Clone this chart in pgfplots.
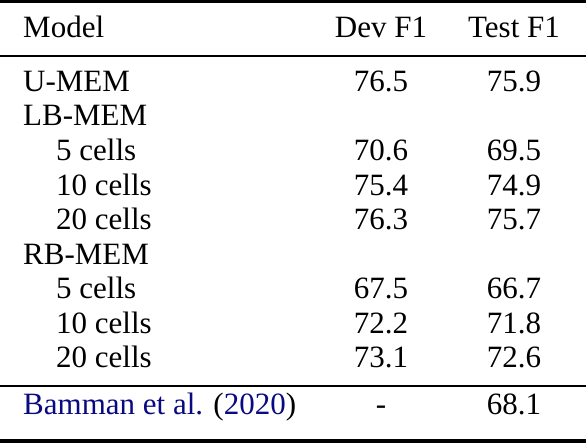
\documentclass[border=0pt]{standalone}
\usepackage{pgfplots}
\pgfplotsset{compat=1.18}
\usepackage{fontspec}
\setmainfont{Liberation Serif}
\definecolor{citeblue}{RGB}{10,10,128}
\newcommand{\bamman}{\textcolor{citeblue}{Bamman et al.} (\textcolor{citeblue}{2020})}

\begin{document}
\begin{tikzpicture}
\begin{axis}[
    name=ax, at={(0,0)}, anchor=south west,
    scale only axis, width=586bp, height=443bp,
    xmin=0, xmax=586, ymin=0, ymax=443, y dir=reverse,
    axis lines=none, clip=false,
    nodes near coords, point meta=explicit symbolic,
    every node near coord/.append style={inner sep=0pt,
        font=\fontsize{31bp}{36bp}\selectfont},
]
% rules
\addplot[black, line width=3.5bp] coordinates {(0,1.7) (586,1.7)};
\addplot[black, line width=1.8bp] coordinates {(0,56) (586,56)};
\addplot[black, line width=1.8bp] coordinates {(0,386) (586,386)};
\addplot[black, line width=4.5bp] coordinates {(0,440.8) (586,440.8)};

% model column
\addplot[draw=none, mark=none, every node near coord/.append style={anchor=base west}]
  table[col sep=comma, row sep=\\, meta=t] {
x,y,t\\
23,38,Model\\
23,91.5,U-MEM\\
23,126,LB-MEM\\
56,160.5,5 cells\\
56,195,10 cells\\
56,229.5,20 cells\\
23,264,RB-MEM\\
56,298.5,5 cells\\
56,333,10 cells\\
56,367.5,20 cells\\
23,414,\bamman\\
};

% Dev F1
\addplot[draw=none, mark=none, every node near coord/.append style={anchor=base}]
  table[col sep=comma, row sep=\\, meta=t] {
x,y,t\\
381,38,Dev F1\\
381,91.5,76.5\\
381,160.5,70.6\\
381,195,75.4\\
381,229.5,76.3\\
381,298.5,67.5\\
381,333,72.2\\
381,367.5,73.1\\
381,414,-\\
};

% Test F1
\addplot[draw=none, mark=none, every node near coord/.append style={anchor=base}]
  table[col sep=comma, row sep=\\, meta=t] {
x,y,t\\
514,38,Test F1\\
514,91.5,75.9\\
514,160.5,69.5\\
514,195,74.9\\
514,229.5,75.7\\
514,298.5,66.7\\
514,333,71.8\\
514,367.5,72.6\\
514,414,68.1\\
};
\end{axis}
\pgfresetboundingbox
\useasboundingbox (ax.south west) rectangle (ax.north east);
\end{tikzpicture}
\end{document}
